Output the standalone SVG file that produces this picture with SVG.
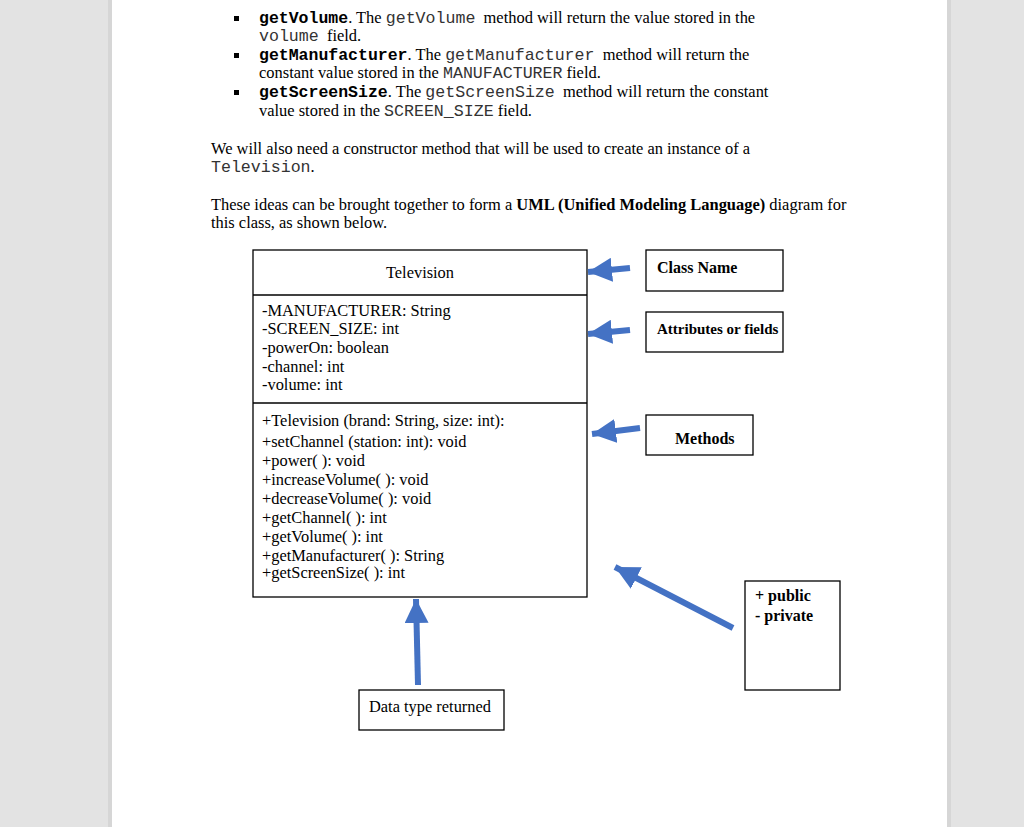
<svg xmlns="http://www.w3.org/2000/svg" width="1024" height="827" viewBox="0 0 1024 827">
<defs>
<style>
.s{font-family:"Liberation Serif","Times New Roman",serif;font-size:16.45px;fill:#000}
.m{font-family:"Liberation Mono","Courier New",monospace;font-size:16.6px;fill:#333}
.mb{font-family:"Liberation Mono","Courier New",monospace;font-size:16.5px;font-weight:bold;fill:#000}
.b{font-weight:bold}
.u{font-family:"Liberation Serif","Times New Roman",serif;font-size:16.4px;fill:#000}
.lb{font-family:"Liberation Serif","Times New Roman",serif;font-size:16px;font-weight:bold;fill:#000}
.box{fill:#fff;stroke:#000;stroke-width:1.3}
.arr{stroke:#4472c4;stroke-width:6;fill:none;marker-end:url(#ah)}
</style>
<marker id="ah" markerUnits="userSpaceOnUse" markerWidth="24" markerHeight="24" viewBox="0 0 20 20" refX="20" refY="10" orient="auto">
<path d="M0,0 L20,10 L0,20 Z" fill="#4472c4"/>
</marker>
</defs>
<rect width="1024" height="827" fill="#e3e3e3"/>
<rect x="108" y="0" width="4" height="827" fill="#d6d6d6"/>
<rect x="947" y="0" width="4" height="827" fill="#d6d6d6"/>
<rect x="112" y="0" width="835" height="827" fill="#fff"/>

<g id="text">
<rect x="234" y="16" width="5" height="5" fill="#000"/>
<text x="259" y="23" class="s" xml:space="preserve"><tspan class="mb">getVolume</tspan>. The <tspan class="m">getVolume</tspan>  method will return the value stored in the</text>
<text x="259" y="41" class="s" xml:space="preserve"><tspan class="m">volume</tspan>  field.</text>
<rect x="234" y="53" width="5" height="5" fill="#000"/>
<text x="259" y="60" class="s" xml:space="preserve"><tspan class="mb">getManufacturer</tspan>. The <tspan class="m">getManufacturer</tspan>  method will return the</text>
<text x="259" y="78" class="s">constant value stored in the <tspan class="m">MANUFACTURER</tspan> field.</text>
<rect x="234" y="90" width="5" height="5" fill="#000"/>
<text x="259" y="97" class="s" xml:space="preserve"><tspan class="mb">getScreenSize</tspan>. The <tspan class="m">getScreenSize</tspan>  method will return the constant</text>
<text x="259" y="116" class="s">value stored in the <tspan class="m">SCREEN_SIZE</tspan> field.</text>
<text x="211" y="154" class="s">We will also need a constructor method that will be used to create an instance of a</text>
<text x="211" y="172" class="s"><tspan class="m">Television</tspan>.</text>
<text x="211" y="210" class="s">These ideas can be brought together to form a <tspan class="b">UML (Unified Modeling Language)</tspan> diagram for</text>
<text x="211" y="228" class="s">this class, as shown below.</text>
</g>

<g id="television">
<rect x="253" y="250" width="334" height="347" class="box"/>
<line x1="253" y1="295" x2="587" y2="295" stroke="#000" stroke-width="1.3"/>
<line x1="253" y1="403" x2="587" y2="403" stroke="#000" stroke-width="1.3"/>
<text x="420" y="278" class="u" text-anchor="middle">Television</text>
<text x="262" y="316" class="u">-MANUFACTURER: String</text>
<text x="262" y="334" class="u">-SCREEN_SIZE: int</text>
<text x="262" y="353" class="u">-powerOn: boolean</text>
<text x="262" y="372" class="u">-channel: int</text>
<text x="262" y="390" class="u">-volume: int</text>
<text x="262" y="426" class="u">+Television (brand: String, size: int):</text>
<text x="262" y="447" class="u">+setChannel (station: int): void</text>
<text x="262" y="466" class="u">+power( ): void</text>
<text x="262" y="485" class="u">+increaseVolume( ): void</text>
<text x="262" y="504" class="u">+decreaseVolume( ): void</text>
<text x="262" y="523" class="u">+getChannel( ): int</text>
<text x="262" y="542" class="u">+getVolume( ): int</text>
<text x="262" y="561" class="u">+getManufacturer( ): String</text>
<text x="262" y="578" class="u">+getScreenSize( ): int</text>
</g>

<g id="classname">
<rect x="646" y="250" width="137" height="41" class="box"/>
<text x="657" y="273" class="lb">Class Name</text>
</g>
<g id="attributes">
<rect x="646" y="312" width="137" height="40" class="box"/>
<text x="657" y="334" class="lb" style="font-size:15px">Attributes or fields</text>
</g>
<g id="methods">
<rect x="646" y="415" width="107" height="40" class="box"/>
<text x="675" y="444" class="lb">Methods</text>
</g>
<g id="visibility">
<rect x="745" y="581" width="95" height="109" class="box"/>
<text x="755" y="601" class="lb">+ public</text>
<text x="755" y="621" class="lb">- private</text>
</g>
<g id="datatype">
<rect x="359" y="690" width="145" height="40" class="box"/>
<text x="369" y="712" class="u">Data type returned</text>
</g>

<g id="connectors">
<line x1="630" y1="268" x2="588" y2="272" class="arr"/>
<line x1="630" y1="330" x2="588" y2="334" class="arr"/>
<line x1="640" y1="428" x2="592" y2="434" class="arr"/>
<line x1="733" y1="628" x2="615" y2="567" class="arr"/>
<line x1="418" y1="685" x2="416" y2="599" class="arr"/>
</g>
</svg>
